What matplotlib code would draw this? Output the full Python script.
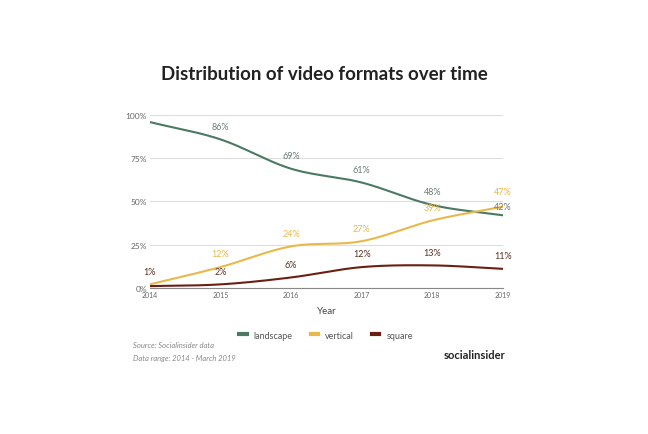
import numpy as np
import matplotlib
matplotlib.use("Agg")
import matplotlib.pyplot as plt

years = [2014, 2015, 2016, 2017, 2018, 2019]
landscape = [96, 86, 69, 61, 48, 42]
vertical = [2, 12, 24, 27, 39, 47]
square = [1, 2, 6, 12, 13, 11]
land_labels = [None, "86%", "69%", "61%", "48%", "42%"]
vert_labels = ["1%", "12%", "24%", "27%", "39%", "47%"]
sq_labels = [None, "2%", "6%", "12%", "13%", "11%"]

def smooth(x, y, n=30):
    x = np.asarray(x, float); y = np.asarray(y, float)
    m = np.gradient(y, x)
    xs, ys = [], []
    for i in range(len(x) - 1):
        h = x[i+1] - x[i]
        t = np.linspace(0, 1, n)
        h00 = 2*t**3 - 3*t**2 + 1; h10 = t**3 - 2*t**2 + t
        h01 = -2*t**3 + 3*t**2; h11 = t**3 - t**2
        xs.append(x[i] + t*h)
        ys.append(h00*y[i] + h10*h*m[i] + h01*y[i+1] + h11*h*m[i+1])
    return np.concatenate(xs), np.concatenate(ys)

plt.rcParams['font.family'] = ['Lato', 'DejaVu Sans']
fig = plt.figure(figsize=(6.48, 4.35), dpi=100)
ax = fig.add_axes([0.231, 0.336, 0.545, 0.397])
cols = {'landscape': '#4a7a62', 'vertical': '#e8b84a', 'square': '#6b1f12'}
for name, vals in [('landscape', landscape), ('vertical', vertical), ('square', square)]:
    xs, ys = smooth(years, vals)
    ax.plot(xs, ys, color=cols[name], lw=1.5, label=name)
for i, y in enumerate(years):
    if land_labels[i]:
        off = 2.5 if i == 5 else 5
        ax.text(y, landscape[i] + off, land_labels[i], ha='center', va='bottom', fontsize=6.5, color='#6a7d74')
    if i == 5:
        ax.text(y, vertical[i] + 6, vert_labels[i], ha='center', va='bottom', fontsize=6.5, color=cols['vertical'])
    elif i == 0:
        ax.text(y, 7, vert_labels[i], ha='center', va='bottom', fontsize=6.5, color='#5a3020')
    else:
        ax.text(y, vertical[i] + 5, vert_labels[i], ha='center', va='bottom', fontsize=6.5, color=cols['vertical'])
    if sq_labels[i]:
        ax.text(y, square[i] + 5, sq_labels[i], ha='center', va='bottom', fontsize=6.5, color='#5a3020')
ax.set_xlim(2014, 2019)
ax.set_ylim(0, 100)
ax.set_xticks(years)
ax.set_xticklabels([str(y) for y in years], fontsize=5, color='#666666')
ax.set_yticks([0, 25, 50, 75, 100])
ax.set_yticklabels(['0%', '25%', '50%', '75%', '100%'], fontsize=6, color='#666666')
ax.tick_params(length=0, pad=2)
ax.grid(axis='y', color='#dddddd', lw=0.8)
ax.set_axisbelow(True)
for s in ['top', 'right', 'left']:
    ax.spines[s].set_visible(False)
ax.spines['bottom'].set_color('#888888')
ax.set_xlabel('Year', fontsize=7, color='#444444', labelpad=6)
leg = ax.legend(loc='upper center', bbox_to_anchor=(0.5, -0.2), ncol=3, frameon=False,
                fontsize=6.5, handlelength=0.8, labelcolor='#555555')
for h in leg.get_lines():
    h.set_linewidth(3)
fig.text(0.5, 0.815, 'Distribution of video formats over time', ha='center', fontsize=13.5,
         fontweight='bold', color='#222222')
fig.text(0.205, 0.2, 'Source: Socialinsider data', fontsize=5.5, style='italic', color='#888888')
fig.text(0.205, 0.17, 'Data range: 2014 - March 2019', fontsize=5.5, style='italic', color='#888888')
fig.text(0.78, 0.175, 'socialinsider', fontsize=8, fontweight='bold', color='#222222', ha='right')
fig.savefig('out.png', dpi=100, facecolor='white')
